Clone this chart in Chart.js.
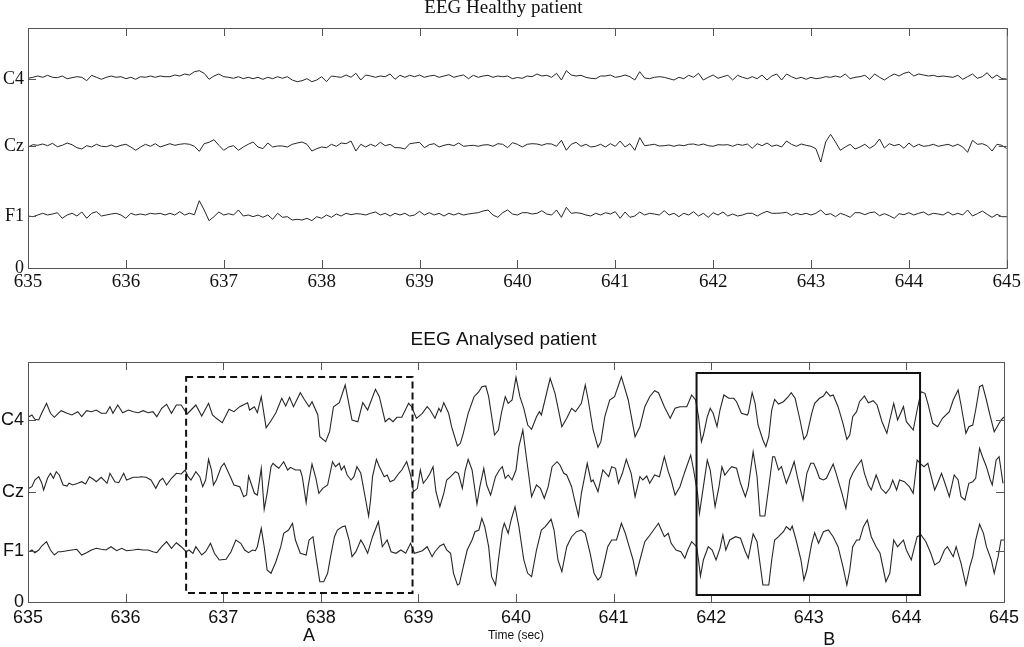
<!DOCTYPE html>
<html>
<head>
<meta charset="utf-8">
<title>EEG</title>
<script src="https://cdn.jsdelivr.net/npm/chart.js@4.4.1/dist/chart.umd.min.js"></script>
<style>
  html, body { margin: 0; padding: 0; background: #fff; }
  #wrap { position: relative; width: 1024px; height: 647px; overflow: hidden; }
  .panel { position: absolute; left: 0; width: 1024px; }
  #top { top: 0; height: 300px; }
  #bottom { top: 320px; height: 327px; }
</style>
</head>
<body>
<div id="wrap">
  <div class="panel" id="top"><canvas id="healthyChart"></canvas></div>
  <div class="panel" id="bottom"><canvas id="analysedChart"></canvas></div>
</div>
<script>
// time axis (sec)
const timeMin = 635, timeMax = 645;

// channel offsets on the stacked plot
const healthyBase = { C4: 189, Cz: 122, F1: 52 };
const analysedBase = { C4: 182, Cz: 110, F1: 51 };

// healthy patient: amplitude every 0.05 s from 635 to 645
const healthyC4 = [
  0.7,1.7,3,1.7,3.7,1.7,1.3,3,0.3,1.3, 2.3,1.7,-1.7,3.7,1.7,-0.3,1.7,3,1.7,2.3,
  0.3,1.7,-0.3,2.3,1.7,3,1.7,3,2.3,2.3, 4,3,5,4,7.3,8.3,5.7,-0.3,3,5,
  2.3,1.7,0.7,2.3,0.3,1.7,0.3,1.7,-0.3,1.7, 0.3,2.3,0.7,2.3,-1,-2.7,-1.7,0.3,-2.7,-1,
  2.3,-2.7,3,2.3,1.7,4,1.7,5.7,-1,4, 3,1.7,3,2.3,5,-0.3,3.7,1.7,3.7,2.3,
  4,1.7,3,3.7,1.7,3,4.3,1.7,3,4, 0.3,3.7,1.7,3,3.7,1.7,3,2.3,3,0.3,
  1.5,
  0.7,3,2.3,5,3,3.7,1.7,5.7,-1,8.3, 4,3,3.7,1.7,0.7,0.3,3,3,4,1.7,
  2.5,
  4,2.3,-1,7.3,1,0.3,1.7,2.3,1.7,0.3, -1,1.7,0.3,3.7,1.7,5.7,-1,1.7,4,0.7,
  2.3,3.7,-1,3.7,1.7,0.3,2.3,0.3,4,-1, 3,5,-1,5,2.3,0.3,1.7,-0.3,1.7,0.3,
  1,
  2.3,1.7,3,1.7,5,0.3,1.7,2.3,3.7,-0.3, 5,1.7,-1,2.3,5,3,5.7,7,3,5,
  4,3,3.7,2.3,3,2.3,1.7,3.7,-0.3,2.3, 5,0.7,2.3,6.3,0.7,4,0.3,
  0
];
const healthyCz = [
  -1,1.3,0.7,2,0.3,2.7,-0.7,0.7,3,1.3, -1.7,-3,0.3,-1,1.7,-0.3,-0.7,1,-1,0.7,
  1.7,-1,-4.3,-1,1.7,-0.3,2.3,-1,0.7,2.3, 0.7,1.7,2.3,1.7,-0.3,-5.3,2.3,3.7,6.3,0.7,
  -4.3,-1,0.3,-4.3,-1,1.7,4,-1,-2.7,3, -1,0,0,-1,1.7,3,4,1.7,-5,-2.7,
  -1,-1.7,1.7,-0.3,3,2.3,5,-5,1.7,-1, 1.7,-0.3,3.7,0.3,1.7,-1.7,-1.7,-3,2.3,3,
  3.7,-1.7,1.3,2.3,-1,0.7,1.7,0.3,3,-0.3, 0.3,0.7,-0.3,1,1.3,-0.3,2.3,1.7,-1.7,3.3,
  1.7,-1,1.7,2.3,2,0.7,2.3,2,-0.3,5.7, -4.3,1.7,3.7,-0.3,1.7,-1,-0.3,1.7,-1,2.3,
  -0.3,5,-1,2.3,-4.3,8.3,0.3,1,1.7,0, 0.3,1,-0.3,1,0.3,1.7,2,0.7,2,0.3,
  -0.3,1.3,1,1.3,-0.3,1.7,0.7,2,-2.3,2.3, 0.3,3,-0.3,1,-1,5,1.7,-0.3,2,0.7,
  -0.3,-2.7,-16,4,11.7,4,-4.3,-1,1.7,-3, -1,1.7,-2.3,0.7,7,-2,2.3,0.3,1.7,-2.3,
  3,-1,1.7,-0.3,0.3,1.7,-0.3,0.7,1.7,-0.3, 1.7,-1,-6.3,5.7,1.7,2.3,0.3,-5,1.7,0.7,
  -2.7
];
const healthyF1 = [
  0,-0.7,1,2.7,1,2,3.3,-2.3,1,2.7, 0,4,-2.3,2.7,4.3,0,1,2,2.7,1,
  -2.3,2.7,1,2,1,2.7,2,2.7,1,2.7, 1,4.3,1,2.7,1.3,15.3,6,-4.7,-0.7,4,
  1,2.3,1,6,0,1,-0.7,1,-1.3,1, -3.3,2.7,-1.3,-0.7,-4,-3.3,-4,-2.3,-4.7,-0.7,
  -2.3,1,-1.3,2,0,2.7,1.3,2.3,2,1, 2.7,4,1,2.7,0,2.7,1,2.7,0,1,
  4.7,1,3.3,1,2.7,0,2.7,1,2.7,1, 2,2.7,3.3,5,6,1,-1.3,3.3,6,2,
  1,3.3,3.3,2,2.7,5.3,2,1,6,-1.3, 8.7,2.7,3.3,2.7,1,0,2.7,1,3.3,2,
  4.3,-2.3,4,-1.3,0,4,1,2.7,2,1, 5.3,1,2.7,-0.7,2.7,1,4.3,0,2.7,-1.3,
  3.3,1,4,0,2,0,1,2.7,2.7,0, 2.7,4.7,2.7,2.7,3,3.7,0.7,2.7,1.3,2.7,
  1,2.7,6,1.3,2.3,-0.7,2.7,1,-1.3,3.3, 3.3,1.3,3.3,4,0.3,2.3,0.3,-2.3,2.3,1.3,
  3.3,1,2.7,4,1,2.7,2,1,4,1, 2.7,1,6,0,2.3,5,1.7,-1.3,1.7,-0.7,
  -0.7
];

// analysed patient: [time (s), amplitude]
const analysedC4 = [
  [635.01,3.3],[635.04,5],[635.07,0.7],[635.11,0],[635.14,6.7],[635.19,16.7],[635.23,6.7],[635.27,2.7],[635.31,6.7],[635.34,9.3],
  [635.40,6.7],[635.45,5],[635.51,8.3],[635.55,3.3],[635.60,9.3],[635.65,8.3],[635.70,10],[635.75,6.7],[635.80,6.7],[635.84,13.3],
  [635.87,6.7],[635.92,15],[635.97,7.3],[636.03,10],[636.08,8.3],[636.13,7.3],[636.18,9.3],[636.23,7.3],[636.28,8.3],[636.32,3.3],
  [636.37,11.7],[636.42,15.7],[636.47,6.7],[636.52,15],[636.57,15],[636.63,6],[636.72,15],[636.78,4],[636.85,16.7],[636.89,5],
  [636.93,1.7],[636.99,-2.7],[637.06,10.7],[637.11,8.3],[637.17,13.3],[637.25,17.3],[637.27,10],[637.32,13.3],[637.35,7.3],[637.39,23.3],
  [637.44,-7.7],[637.49,-0.7],[637.54,7.3],[637.60,21.7],[637.64,14],[637.68,22.7],[637.72,13.3],[637.79,27.3],[637.83,20.7],[637.88,13.3],
  [637.91,18.3],[637.97,5],[637.99,-16.7],[638.05,-21.7],[638.09,-11.7],[638.13,13.3],[638.19,17.3],[638.25,35],[638.32,0],[638.38,-1.7],
  [638.43,17.3],[638.48,10],[638.56,30.7],[638.60,23.3],[638.66,-1.7],[638.70,1.7],[638.74,-1.7],[638.78,2.7],[638.83,2.7],[638.90,16.7],
  [638.93,13.3],[638.98,1.7],[639.04,6.7],[639.09,13.3],[639.12,10],[639.17,1.7],[639.21,11.7],[639.23,8.3],[639.26,17.3],[639.31,6.7],
  [639.34,-6.7],[639.40,-26],[639.43,-23.3],[639.46,-13.3],[639.51,6.7],[639.57,23.3],[639.62,28.3],[639.65,33.3],[639.69,34],[639.72,23.3],
  [639.78,-15],[639.82,-10],[639.85,6.7],[639.89,23.3],[639.92,16.7],[639.96,20],[640.00,42.7],[640.04,23.3],[640.08,11.7],[640.12,-5],
  [640.16,-9.3],[640.21,3.3],[640.24,8.3],[640.26,5],[640.35,41.7],[640.40,26.7],[640.47,-6.7],[640.52,1.7],[640.57,11.7],[640.61,8.3],
  [640.67,16.7],[640.71,35],[640.74,20],[640.79,-10],[640.84,-27.3],[640.87,-21.7],[640.91,3.3],[640.96,20],[641.01,23.3],[641.08,43.3],
  [641.15,20],[641.22,-16.7],[641.27,-6.7],[641.32,13.3],[641.37,23.3],[641.42,29.3],[641.46,27.3],[641.52,13.3],[641.58,1.7],[641.63,11.7],
  [641.68,13.3],[641.75,13.3],[641.80,25],[641.84,20],[641.87,3.3],[641.90,-21.7],[641.92,-15],[641.96,3.3],[641.99,11.7],[642.02,6.7],
  [642.06,-6.7],[642.09,10],[642.13,25],[642.18,21.7],[642.23,21.7],[642.26,18.3],[642.31,6.7],[642.37,5],[642.38,6.7],[642.42,27.3],
  [642.45,16.7],[642.48,-5],[642.53,-20],[642.56,-26.7],[642.59,-16.7],[642.62,10],[642.65,20.7],[642.69,16],[642.74,18.3],[642.79,23.3],
  [642.82,27.3],[642.86,21.7],[642.91,0],[642.95,-19.3],[642.98,-15],[643.03,6.7],[643.06,16.7],[643.11,21.7],[643.15,24],[643.18,28.3],
  [643.22,24],[643.25,25],[643.30,13.3],[643.35,-3.3],[643.39,-19.3],[643.42,-15],[643.45,3.3],[643.49,8.3],[643.52,18.3],[643.57,24],
  [643.61,17.3],[643.66,19.3],[643.70,15],[643.75,-1.7],[643.80,-13.3],[643.83,0],[643.87,16.7],[643.91,0],[643.97,13.3],[644.00,-1.7],
  [644.07,-10],[644.11,10],[644.15,28.3],[644.19,26.7],[644.22,16.7],[644.27,-3.3],[644.32,-6.7],[644.37,1.7],[644.44,8.3],[644.48,20],
  [644.53,30],[644.56,15],[644.61,-13.3],[644.64,-6.7],[644.68,-5],[644.71,10],[644.75,33.3],[644.78,35],[644.82,20],[644.86,3.3],
  [644.90,-11.7],[644.94,-5],[644.97,0],[645.00,3]
];
const analysedCz = [
  [635.01,3.7],[635.04,5.3],[635.07,12],[635.11,15.3],[635.14,9.3],[635.16,2],[635.20,13.7],[635.23,18.7],[635.26,13.7],[635.29,20.3],
  [635.32,17],[635.36,7],[635.40,6],[635.42,8.7],[635.46,7],[635.51,8.7],[635.55,10.3],[635.59,8],[635.63,15.3],[635.67,12.7],
  [635.70,10.3],[635.75,14.7],[635.81,8.7],[635.84,18.7],[635.89,10.3],[635.93,9.3],[635.98,18.7],[636.01,12],[636.08,14.7],[636.13,14.7],
  [636.16,15.3],[636.21,14.7],[636.26,12],[636.31,3.7],[636.35,11.3],[636.38,13.7],[636.42,7],[636.47,13.7],[636.52,18.7],[636.57,18],
  [636.61,22],[636.64,15.3],[636.67,12],[636.72,20.3],[636.76,15.3],[636.79,5.3],[636.82,12],[636.85,32.7],[636.88,22],[636.90,7],
  [636.93,12],[636.98,25.3],[637.01,28.7],[637.05,20.3],[637.08,13.7],[637.11,7],[637.17,5.3],[637.21,-4.7],[637.24,-3],[637.26,16],
  [637.28,10.3],[637.32,-1.3],[637.35,-3],[637.39,23.7],[637.42,-17.3],[637.45,-1.3],[637.49,25.3],[637.51,28.7],[637.54,26],[637.57,23.7],
  [637.62,30.3],[637.66,22],[637.69,24.7],[637.74,22],[637.79,22],[637.81,15.3],[637.85,-10.7],[637.87,5.3],[637.91,28],[637.95,13.7],
  [637.98,-1.3],[638.02,3.7],[638.07,7],[638.12,30.3],[638.15,25.3],[638.19,28.7],[638.21,22],[638.24,26],[638.27,17],[638.31,12],
  [638.34,15.3],[638.37,25.3],[638.41,18.7],[638.46,-8],[638.49,-24],[638.51,-8],[638.53,15.3],[638.57,32.7],[638.60,25.3],[638.65,15.3],
  [638.68,17],[638.71,10.3],[638.75,12],[638.80,18.7],[638.83,22],[638.88,30.3],[638.92,17],[638.95,0.3],[638.99,3.7],[639.02,22],
  [639.05,8.7],[639.09,13.7],[639.12,18.7],[639.15,25.3],[639.18,0.3],[639.22,-14.7],[639.26,-1.3],[639.29,12],[639.33,15.3],[639.38,20.3],
  [639.41,18.7],[639.45,3.7],[639.48,22],[639.51,32.7],[639.55,22],[639.60,-12],[639.63,5.3],[639.67,23.7],[639.70,7],[639.74,-3],
  [639.75,0.3],[639.79,15.3],[639.83,22],[639.86,25.3],[639.89,13.7],[639.92,17],[639.96,12],[640.00,22],[640.03,45.3],[640.07,62],
  [640.11,32],[640.16,-4.7],[640.21,7],[640.25,3.7],[640.29,-6.3],[640.33,5.3],[640.37,25.3],[640.42,30.3],[640.45,27],[640.49,18.7],
  [640.52,17],[640.57,5.3],[640.60,-8],[640.64,-24],[640.67,-1.3],[640.71,18.7],[640.73,28.7],[640.77,10.3],[640.79,12],[640.84,0.3],
  [640.89,22],[640.95,15.3],[640.98,25.3],[641.02,23.7],[641.05,8.7],[641.09,18.7],[641.13,32.7],[641.18,18.7],[641.22,-4.7],[641.27,15.3],
  [641.30,12],[641.34,16],[641.37,8.7],[641.42,17],[641.47,15.3],[641.52,35.3],[641.56,20.3],[641.59,12],[641.63,-3],[641.68,5.3],
  [641.73,20.3],[641.79,37],[641.82,22],[641.86,-1.3],[641.88,-21.3],[641.92,5.3],[641.96,32],[641.99,22],[642.04,-14.7],[642.08,5.3],
  [642.11,25.3],[642.14,17],[642.18,22],[642.21,25.3],[642.26,23.7],[642.30,8.7],[642.35,-4.7],[642.38,5.3],[642.43,40.3],[642.47,15.3],
  [642.50,-24],[642.55,-24],[642.59,5.3],[642.63,35.3],[642.65,35.3],[642.69,22],[642.72,25.3],[642.77,8.7],[642.81,18.7],[642.85,30.3],
  [642.89,12],[642.94,-8],[642.98,18.7],[643.02,28.7],[643.05,28.7],[643.08,22],[643.11,13.7],[643.15,12],[643.18,13.7],[643.25,28],
  [643.28,18.7],[643.34,-1.3],[643.38,-16.3],[643.42,12],[643.45,18.7],[643.49,25.3],[643.54,32],[643.57,18.7],[643.61,7],[643.64,2],
  [643.69,17],[643.71,12],[643.74,3.7],[643.79,-1.3],[643.83,3.7],[643.86,12],[643.90,2],[643.93,12],[643.98,10.3],[644.03,5.3],
  [644.07,-1.3],[644.11,32],[644.14,28.7],[644.18,25.3],[644.22,28.7],[644.25,17],[644.29,2],[644.32,8.7],[644.36,18.7],[644.39,10.3],
  [644.44,-4.7],[644.49,17],[644.53,12],[644.56,-4.7],[644.60,-8],[644.64,8.7],[644.68,10.3],[644.71,13.7],[644.75,43.7],[644.78,35.3],
  [644.82,25.3],[644.86,12],[644.88,7],[644.92,32],[644.95,35.3],[644.97,22],[644.99,8.7]
];
const analysedF1 = [
  [635.01,-0.7],[635.04,1],[635.07,-1.7],[635.11,1],[635.14,5],[635.19,9.3],[635.23,1],[635.27,-4],[635.31,-0.7],[635.34,-0.7],
  [635.40,0.3],[635.45,1],[635.50,1.7],[635.55,-4],[635.60,-1.7],[635.65,1],[635.70,2.7],[635.75,1.7],[635.80,1],[635.85,4.3],
  [635.91,0.3],[635.96,2.7],[636.01,0.3],[636.08,1],[636.13,1.7],[636.18,1],[636.23,1],[636.28,-0.7],[636.32,-1.7],[636.37,4.3],
  [636.42,9.3],[636.47,2.7],[636.52,8.3],[636.57,4.3],[636.62,-0.7],[636.65,1],[636.69,-2.3],[636.72,4.3],[636.78,-4],[636.82,-0.7],
  [636.87,7.7],[636.91,-2.3],[636.96,-9],[637.03,-8.3],[637.08,-0.7],[637.13,11],[637.18,7.7],[637.22,1],[637.26,-1.7],[637.30,1],
  [637.33,0.3],[637.35,4.3],[637.39,22.7],[637.42,4.3],[637.45,-19],[637.49,-22.3],[637.54,-10.7],[637.59,4.3],[637.62,17.7],[637.67,21],
  [637.71,27.7],[637.74,11],[637.79,-2.3],[637.85,-4],[637.88,11],[637.92,14.3],[637.95,-5.7],[637.99,-30.7],[638.03,-30.7],[638.07,-22.3],
  [638.10,-5.7],[638.14,14.3],[638.17,21],[638.22,24.3],[638.25,25],[638.29,11],[638.32,-5.7],[638.36,-0.7],[638.41,11],[638.44,6],
  [638.48,-2.3],[638.53,14.3],[638.59,29.3],[638.63,4.3],[638.68,11],[638.72,-0.7],[638.77,-2.3],[638.82,1],[638.87,-2.3],[638.92,7.7],
  [638.96,-2.3],[639.01,-0.7],[639.04,0.3],[639.09,4.3],[639.14,-5.7],[639.17,-0.7],[639.22,5],[639.26,7],[639.29,1],[639.33,-2.3],
  [639.36,-22.3],[639.40,-34],[639.42,-33],[639.46,-15.7],[639.50,1],[639.55,11],[639.58,19.3],[639.62,21],[639.65,32.7],[639.68,24.3],
  [639.72,4.3],[639.75,-25.7],[639.79,-34],[639.82,-9],[639.86,21],[639.88,27.7],[639.92,17.7],[639.95,31],[639.99,44.3],[640.03,24.3],
  [640.08,-9],[640.12,-22.3],[640.16,-25.7],[640.21,1],[640.26,21],[640.30,24.3],[640.36,31.7],[640.39,21],[640.43,-9],[640.47,-20.7],
  [640.52,4.3],[640.57,14.3],[640.62,19.3],[640.67,21],[640.71,17.7],[640.76,-2.3],[640.80,-22.3],[640.84,-29],[640.87,-25.7],[640.91,-9],
  [640.94,4.3],[640.98,11],[641.03,11],[641.08,27.7],[641.12,17.7],[641.15,7.7],[641.20,-9],[641.23,-24],[641.27,-9],[641.32,9.3],
  [641.36,14.3],[641.41,21],[641.46,27.7],[641.49,21],[641.52,14.3],[641.56,17.7],[641.59,7.7],[641.64,1],[641.69,-0.7],[641.73,-7.3],
  [641.76,1],[641.80,9.3],[641.85,4.3],[641.87,-9],[641.89,-25],[641.92,-9],[641.97,4.3],[642.01,1],[642.05,-9],[642.09,2.7],
  [642.12,16],[642.15,1],[642.19,11],[642.25,14.3],[642.30,12.7],[642.35,-0.7],[642.38,-7.3],[642.43,17],[642.47,9.3],[642.50,-12.3],
  [642.53,-34],[642.59,-34],[642.62,-9],[642.65,11],[642.69,14.3],[642.74,19.3],[642.77,24.3],[642.81,21],[642.83,25],[642.87,11],
  [642.92,-9],[642.95,-29],[642.98,-19],[643.03,7.7],[643.06,18.3],[643.10,7.7],[643.15,19.3],[643.20,21],[643.25,14.3],[643.30,4.3],
  [643.35,-15.7],[643.39,-34],[643.42,-19],[643.45,4.3],[643.49,11],[643.52,11],[643.56,24.3],[643.60,31],[643.64,14.3],[643.69,4.3],
  [643.73,-2.3],[643.79,-30.7],[643.83,-22.3],[643.87,11],[643.91,4.3],[643.97,11],[644.00,1],[644.05,-9],[644.11,14.3],[644.15,16],
  [644.20,9.3],[644.25,-2.3],[644.29,-14],[644.34,-10.7],[644.39,1],[644.42,4.3],[644.48,-5.7],[644.51,4.3],[644.56,-12.3],[644.61,-34],
  [644.65,-15.7],[644.68,-5.7],[644.71,11],[644.75,26.7],[644.79,17.7],[644.82,4.3],[644.87,-9],[644.90,-22.3],[644.94,-5.7],[644.97,11],
  [645.00,11]
];

function sampled(values, base) {
  const n = values.length;
  return values.map((v, i) => ({ x: timeMin + (timeMax - timeMin) * i / (n - 1), y: base + v }));
}
function paired(pairs, base) {
  return pairs.map(p => ({ x: p[0], y: base + p[1] }));
}

// matlab-like frame with inward tick marks
const frameTicks = {
  id: 'frameTicks',
  afterDraw(chart, args, opts) {
    const { ctx, chartArea: a, scales: { x, y } } = chart;
    ctx.save();
    ctx.strokeStyle = opts.color;
    ctx.lineWidth = 1;
    ctx.strokeRect(a.left + 0.5, a.top + 0.5, a.width, a.height);
    ctx.beginPath();
    x.ticks.forEach(t => {
      const px = Math.round(x.getPixelForValue(t.value)) + 0.5;
      ctx.moveTo(px, a.bottom); ctx.lineTo(px, a.bottom - opts.len);
      ctx.moveTo(px, a.top); ctx.lineTo(px, a.top + opts.len);
    });
    y.ticks.forEach(t => {
      if (t.value === 0) return;
      const py = Math.round(y.getPixelForValue(t.value)) + 0.5;
      ctx.moveTo(a.left, py); ctx.lineTo(a.left + opts.len, py);
      ctx.moveTo(a.right, py); ctx.lineTo(a.right - opts.len, py);
    });
    ctx.stroke();
    ctx.restore();
  }
};

// boxes and letters on the analysed panel
const panelNotes = {
  id: 'panelNotes',
  afterDraw(chart, args, opts) {
    const { ctx, scales: { x, y } } = chart;
    ctx.save();
    (opts.boxes || []).forEach(b => {
      ctx.strokeStyle = '#111';
      ctx.lineWidth = 2;
      ctx.setLineDash(b.dash);
      const x0 = x.getPixelForValue(b.x0), x1 = x.getPixelForValue(b.x1);
      const y0 = y.getPixelForValue(b.y0), y1 = y.getPixelForValue(b.y1);
      ctx.strokeRect(x0, y1, x1 - x0, y0 - y1);
    });
    ctx.setLineDash([]);
    ctx.fillStyle = '#111';
    ctx.textAlign = 'center';
    ctx.textBaseline = 'middle';
    (opts.labels || []).forEach(l => {
      ctx.font = l.font;
      ctx.fillText(l.text, x.getPixelForValue(l.x), l.y);
    });
    ctx.restore();
  }
};

function eegChart(canvasId, cfg) {
  const yLabels = cfg.yLabels;
  return new Chart(document.getElementById(canvasId), {
    type: 'line',
    data: {
      datasets: cfg.series.map(s => ({
        label: s.name,
        data: s.points,
        borderColor: '#262626',
        borderWidth: cfg.lineWidth,
        pointRadius: 0,
        tension: 0,
        fill: false
      }))
    },
    options: {
      responsive: true,
      maintainAspectRatio: false,
      animation: false,
      events: [],
      layout: { padding: { left: 0, right: 17, top: 0, bottom: 0 } },
      plugins: {
        legend: { display: false },
        tooltip: { enabled: false },
        title: {
          display: true,
          text: cfg.title,
          color: '#111',
          font: { family: cfg.font, size: cfg.titleSize, weight: 'normal', lineHeight: cfg.titleLine },
          padding: cfg.titlePadding
        },
        frameTicks: { color: '#555', len: 8 },
        panelNotes: cfg.notes || {}
      },
      scales: {
        x: {
          type: 'linear',
          min: timeMin,
          max: timeMax,
          grid: { display: false, drawTicks: false },
          border: { display: false },
          ticks: {
            stepSize: 1,
            padding: cfg.xPad,
            color: '#111',
            autoSkip: false,
            maxRotation: 0,
            font: { family: cfg.font, size: cfg.tickSize },
            callback: v => String(v)
          },
          afterFit: s => { s.height = cfg.xHeight; }
        },
        y: {
          type: 'linear',
          min: 0,
          max: 240,
          grid: { display: false, drawTicks: false },
          border: { display: false },
          ticks: {
            padding: 4,
            color: '#111',
            autoSkip: false,
            font: { family: cfg.font, size: cfg.labelSize },
            callback: v => (yLabels[v] !== undefined ? yLabels[v] : '')
          },
          afterBuildTicks: s => { s.ticks = Object.keys(yLabels).map(v => ({ value: Number(v) })); },
          afterFit: s => { s.width = 28; }
        }
      }
    },
    plugins: [frameTicks, panelNotes]
  });
}

eegChart('healthyChart', {
  title: 'EEG Healthy patient',
  font: 'Liberation Serif',
  titleSize: 19,
  titleLine: '16px',
  titlePadding: { top: 0, bottom: 12 },
  tickSize: 19,
  labelSize: 18,
  xPad: 3,
  xHeight: 32,
  lineWidth: 1,
  yLabels: { 0: '0', [healthyBase.F1]: 'F1', [healthyBase.Cz]: 'Cz', [healthyBase.C4]: 'C4' },
  series: [
    { name: 'C4', points: sampled(healthyC4, healthyBase.C4) },
    { name: 'Cz', points: sampled(healthyCz, healthyBase.Cz) },
    { name: 'F1', points: sampled(healthyF1, healthyBase.F1) }
  ]
});

eegChart('analysedChart', {
  title: 'EEG Analysed patient',
  font: 'Liberation Sans',
  titleSize: 19,
  titleLine: '19px',
  titlePadding: { top: 10.5, bottom: 12.5 },
  tickSize: 18,
  labelSize: 18,
  xPad: 5,
  xHeight: 45,
  lineWidth: 1.1,
  yLabels: { 0: '0', [analysedBase.F1]: 'F1', [analysedBase.Cz]: 'Cz', [analysedBase.C4]: 'C4' },
  series: [
    { name: 'C4', points: paired(analysedC4, analysedBase.C4) },
    { name: 'Cz', points: paired(analysedCz, analysedBase.Cz) },
    { name: 'F1', points: paired(analysedF1, analysedBase.F1) }
  ],
  notes: {
    boxes: [
      { x0: 636.62, x1: 638.94, y0: 9, y1: 225, dash: [7, 4] },
      { x0: 641.85, x1: 644.14, y0: 7, y1: 229, dash: [] }
    ],
    labels: [
      { text: 'A', x: 637.88, y: 316, font: '18px "Liberation Sans"' },
      { text: 'Time (sec)', x: 640.0, y: 316, font: '12px "Liberation Sans"' },
      { text: 'B', x: 643.21, y: 320, font: '18px "Liberation Sans"' }
    ]
  }
});
</script>
</body>
</html>
